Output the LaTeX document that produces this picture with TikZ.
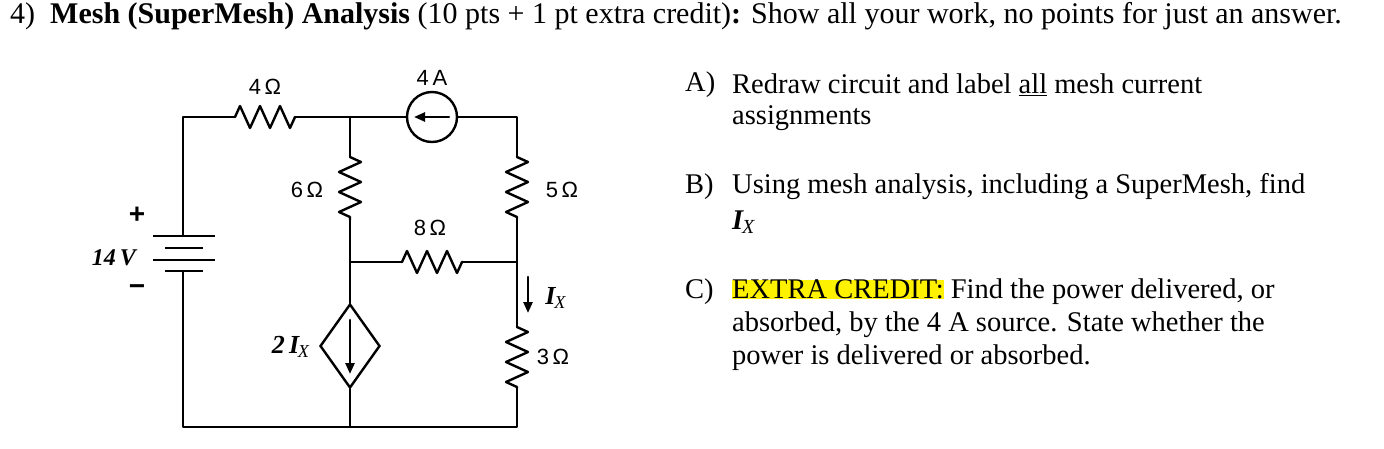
\documentclass[tikz,border=0pt]{standalone}
\usepackage{fontspec}
\setmainfont{Liberation Serif}
\newfontfamily\csans{Liberation Sans}
\usetikzlibrary{decorations.pathmorphing,arrows.meta,shapes.geometric}
\tikzset{
  wire/.style={line width=2.4pt,line cap=round,line join=round},
  res/.style={wire,decorate,decoration={zigzag,segment length=20pt,amplitude=11pt}},
  clab/.style={font=\csans\fontsize{22}{24}\selectfont,inner sep=0pt},
  txt/.style={font=\fontsize{28.5}{32}\selectfont,anchor=west,inner sep=0pt},
  arr/.style={wire,-{Triangle[length=11pt,width=9pt]}}
}
\newcommand{\IX}{\textbf{\textit{I}}\textsubscript{\kern-2pt\textit{X}}}
\begin{document}
\begin{tikzpicture}[x=1pt,y=-1pt]
\useasboundingbox (0,0) rectangle (1384,448);
% coordinates
\coordinate (TL) at (183,117);
\coordinate (R4a) at (235,117); \coordinate (R4b) at (295,117);
\coordinate (TM) at (350,117);
\coordinate (TR) at (517,117);
\coordinate (R6a) at (350,157); \coordinate (R6b) at (350,220);
\coordinate (MM) at (350,262);
\coordinate (R8a) at (402,262); \coordinate (R8b) at (463,262);
\coordinate (MR) at (517,262);
\coordinate (R5a) at (517,157); \coordinate (R5b) at (517,218);
\coordinate (R3a) at (517,327); \coordinate (R3b) at (517,388);
\coordinate (BL) at (183,427); \coordinate (BM) at (350,427); \coordinate (BR) at (517,427);
\coordinate (BatT) at (183,236); \coordinate (BatB) at (183,271);
\node[circle,draw,line width=2.4pt,minimum size=50pt,inner sep=0pt] (CS) at (432,117) {};
\node[diamond,draw,line width=2.4pt,minimum width=60pt,minimum height=84pt,inner sep=0pt,shape aspect=0.7] (DS) at (350,346) {};
% wires
\draw[wire] (BatT) -- (TL) -- (R4a);
\draw[res] (R4a) -- (R4b);
\draw[wire] (R4b) -- (TM) -- (CS.west);
\draw[wire] (CS.east) -- (TR) -- (R5a);
\draw[res] (R5a) -- (R5b);
\draw[wire] (R5b) -- (MR) -- (R3a);
\draw[res] (R3a) -- (R3b);
\draw[wire] (R3b) -- (BR) -- (BL) -- (BatB);
\draw[wire] (TM) -- (R6a);
\draw[res] (R6a) -- (R6b);
\draw[wire] (R6b) -- (MM) -- (DS.north);
\draw[wire] (DS.south) -- (BM);
\draw[wire] (MM) -- (R8a);
\draw[res] (R8a) -- (R8b);
\draw[wire] (R8b) -- (MR);
% battery
\draw[wire,line cap=butt] (153,236) -- (215,236);
\draw[wire,line cap=butt] (165,248) -- (203,248);
\draw[wire,line cap=butt] (153,260) -- (215,260);
\draw[wire,line cap=butt] (165,271) -- (203,271);
% source arrows
\draw[arr] (449,117) -- (414,117);
\draw[arr] (350,320) -- (350,374);
\coordinate (IxA) at (528,277); \coordinate (IxB) at (528,313);
\draw[arr] (IxA) -- (IxB);
% labels
\node[clab] (l4) at (265,87) {4\,Ω};
\node[clab] (l4A) at (432,78) {4\,A};
\node[clab] (l6) at (307,190) {6\,Ω};
\node[clab] (l5) at (562,190) {5\,Ω};
\node[clab] (l8) at (430,228) {8\,Ω};
\node[clab] (l3) at (553,357) {3\,Ω};
\node[font=\fontsize{26}{28}\selectfont,inner sep=0pt] (l2ix) at (291,347) {\textbf{\textit{2}}\,\IX};
\node[font=\fontsize{26}{28}\selectfont,inner sep=0pt] (lix) at (556,298) {\IX};
\node[font=\bfseries\itshape\fontsize{24}{26}\selectfont,inner sep=0pt] (l14) at (114,258) {14\,V};
\node[font=\csans\bfseries\fontsize{28}{28}\selectfont,inner sep=0pt] (lp) at (137,215) {+};
\node[font=\csans\bfseries\fontsize{28}{28}\selectfont,inner sep=0pt] (lm) at (137,290) {\textminus};
% text
\node[txt,font=\fontsize{30}{34}\selectfont] (title) at (10,16) {4)\ \ \textbf{Mesh (SuperMesh) Analysis} (10 pts + 1 pt extra credit)\textbf{:} Show all your work, no points for just an answer.};
\node[txt] (a1) at (685,85) {A)};
\node[txt] (a2) at (732,85) {Redraw circuit and label \underline{all} mesh current};
\node[txt] (a3) at (732,118) {assignments};
\node[txt] (b1) at (685,187) {B)};
\node[txt] (b2) at (732,187) {Using mesh analysis, including a SuperMesh, find};
\node[txt] (b3) at (732,222) {\IX};
\node[txt] (c1) at (685,292) {C)};
\node[txt] (c2) at (732,292) {{\setlength{\fboxsep}{0pt}\colorbox{yellow}{EXTRA CREDIT:}} Find the power delivered, or};
\node[txt] (c3) at (732,325) {absorbed, by the 4 A source. State whether the};
\node[txt] (c4) at (732,358) {power is delivered or absorbed.};
\end{tikzpicture}
\end{document}
